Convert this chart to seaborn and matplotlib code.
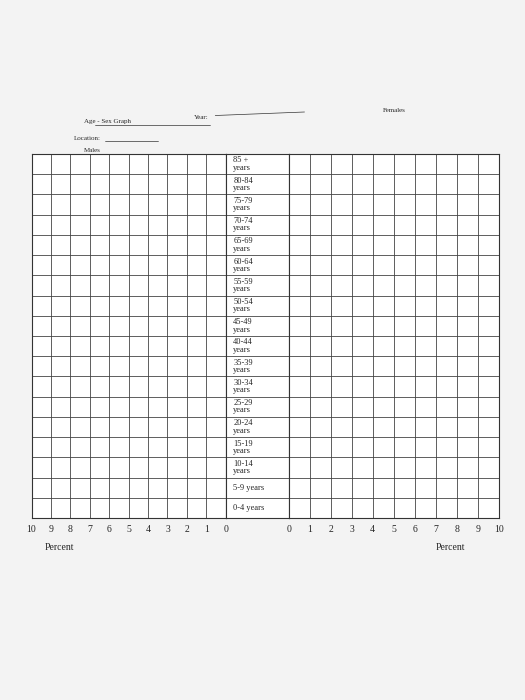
import matplotlib
matplotlib.use("Agg")
import matplotlib.pyplot as plt
import seaborn as sns
import pandas as pd

ages = ["85 +\nyears", "80-84\nyears", "75-79\nyears", "70-74\nyears", "65-69\nyears",
        "60-64\nyears", "55-59\nyears", "50-54\nyears", "45-49\nyears", "40-44\nyears",
        "35-39\nyears", "30-34\nyears", "25-29\nyears", "20-24\nyears", "15-19\nyears",
        "10-14\nyears", "5-9 years", "0-4 years"]
males = [0] * len(ages)
females = [0] * len(ages)
ticks = list(range(0, 11))

sns.set_theme(style="white")
plt.rcParams['font.family'] = ['Liberation Serif', 'DejaVu Sans']

fig = plt.figure(figsize=(5.25, 7), dpi=100)
fig.patch.set_facecolor("#f3f3f3")
axL = fig.add_axes([0.06, 0.26, 0.37, 0.52])
axC = fig.add_axes([0.43, 0.26, 0.12, 0.52])
axR = fig.add_axes([0.55, 0.26, 0.40, 0.52])

dfm = pd.DataFrame({"age": ages, "pct": males})
dff = pd.DataFrame({"age": ages, "pct": females})
sns.barplot(data=dfm, y="age", x="pct", ax=axL, color="#555555", orient="h")
sns.barplot(data=dff, y="age", x="pct", ax=axR, color="#555555", orient="h")

for ax in (axL, axR):
    ax.set_facecolor("white")
    ax.set_xlim(0, 10)
    ax.set_ylim(len(ages) - 0.5, -0.5)
    ax.set_xticks(ticks)
    ax.set_yticks([i + 0.5 for i in range(-1, len(ages))])
    ax.set_yticklabels([])
    ax.grid(True, color="#444444", lw=0.6)
    ax.set_xticklabels([])
    ax.tick_params(length=0)
    ax.set_ylabel("")
    ax.set_xlabel("")
    for s in ax.spines.values():
        s.set_color("#333333"); s.set_linewidth(0.8)
axL.invert_xaxis()
for ax in (axL, axR):
    for t in ticks:
        ax.text(t, len(ages) - 0.5 + 0.35, str(t), ha="center", va="top", fontsize=7,
                clip_on=False)

axC.set_facecolor("white")
axC.set_xlim(0, 1)
axC.set_ylim(len(ages) - 0.5, -0.5)
axC.set_xticks([]); axC.set_yticks([])
for i, a in enumerate(ages):
    axC.text(0.12, i, a, ha="left", va="center", fontsize=6, linespacing=0.9)
    axC.axhline(i + 0.5, color="#444444", lw=0.6)
for s in axC.spines.values():
    s.set_color("#333333"); s.set_linewidth(0.8)

fig.text(0.16, 0.825, "Age - Sex Graph", fontsize=5)
fig.text(0.37, 0.83, "Year:", fontsize=5)
fig.add_artist(plt.Line2D([0.18, 0.40], [0.822, 0.822], color="#333333", lw=0.5))
fig.add_artist(plt.Line2D([0.41, 0.58], [0.835, 0.84], color="#333333", lw=0.5))
fig.text(0.14, 0.8, "Location:", fontsize=5)
fig.add_artist(plt.Line2D([0.20, 0.30], [0.798, 0.798], color="#333333", lw=0.5))
fig.text(0.16, 0.783, "Males", fontsize=5)
fig.text(0.73, 0.84, "Females", fontsize=5)
fig.text(0.085, 0.215, "Percent", fontsize=7)
fig.text(0.83, 0.215, "Percent", fontsize=7)

fig.savefig("out.png", dpi=100, facecolor=fig.get_facecolor())
